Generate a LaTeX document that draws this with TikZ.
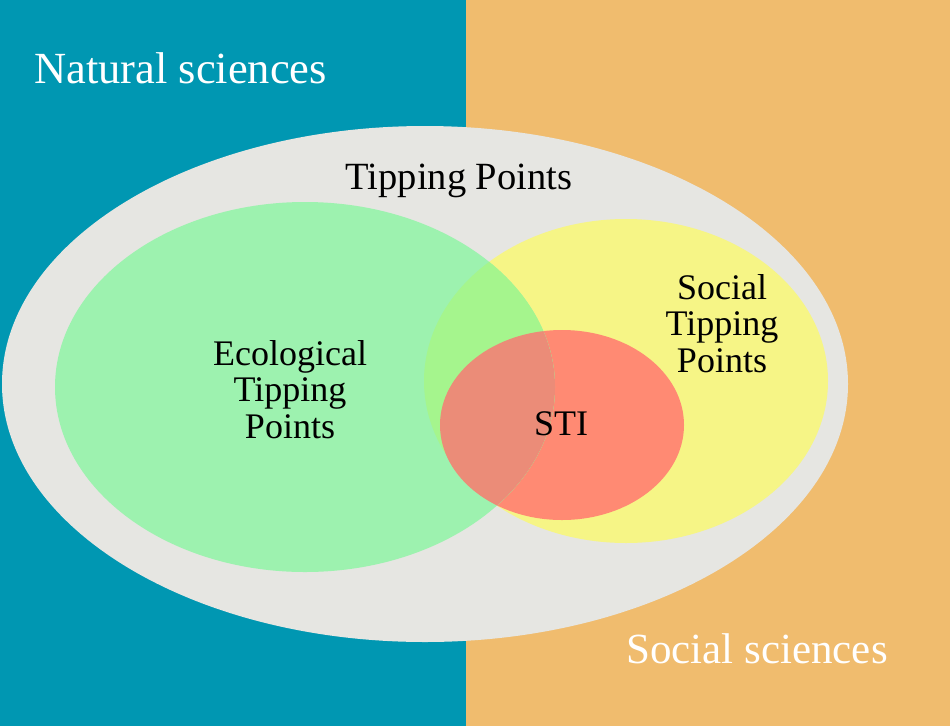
\documentclass[tikz,border=0pt]{standalone}
\usepackage{fontspec}
\setmainfont{Liberation Serif}
\definecolor{bgblue}{RGB}{0,151,178}
\definecolor{bgorange}{RGB}{240,188,110}
\definecolor{tpgray}{RGB}{230,230,226}
\definecolor{ecogreen}{RGB}{157,242,175}
\definecolor{socyellow}{RGB}{246,245,134}
\definecolor{stired}{RGB}{255,138,115}
\definecolor{limemix}{RGB}{165,245,141}
\definecolor{brownmix}{RGB}{235,140,120}
\tikzset{
  biglabel/.style={text=white, inner sep=0pt, font=\fontsize{43}{43}\selectfont},
  setlabel/.style={text=black, inner sep=0pt, align=center, font=\fontsize{36}{36.5}\selectfont},
}
\begin{document}
\begin{tikzpicture}[x=1pt,y=-1pt]
\useasboundingbox (0,0) rectangle (950,726);
% backgrounds
\fill[bgblue] (0,0) rectangle (466,726);
\fill[bgorange] (466,0) rectangle (950,726);
% sets
\fill[tpgray] (425,384) ellipse [x radius=423pt, y radius=258pt];
\fill[socyellow] (626,381) ellipse [x radius=202pt, y radius=162pt];
\fill[stired] (562,425) ellipse [x radius=122pt, y radius=95pt];
\fill[ecogreen] (305,387) ellipse [x radius=250pt, y radius=185pt];
\begin{scope}
  \clip (305,387) ellipse [x radius=250pt, y radius=185pt];
  \fill[limemix] (626,381) ellipse [x radius=202pt, y radius=162pt];
  \fill[brownmix] (562,425) ellipse [x radius=122pt, y radius=95pt];
\end{scope}
% labels
\node[biglabel, anchor=base west, font=\fontsize{44.5}{44.5}\selectfont] (nat) at (34,83) {Natural sciences};
\node[biglabel, anchor=base west] (soc) at (626,663) {Social sciences};
\node[setlabel, anchor=base, font=\fontsize{38.5}{38.5}\selectfont] (tp) at (459,189) {Tipping Points};
\node[setlabel, anchor=base] (eco) at (290,438) {Ecological\\Tipping\\Points};
\node[setlabel, anchor=base] (stp) at (722,372) {Social\\Tipping\\Points};
\node[setlabel, anchor=base] (sti) at (561,435) {STI};
\end{tikzpicture}
\end{document}
